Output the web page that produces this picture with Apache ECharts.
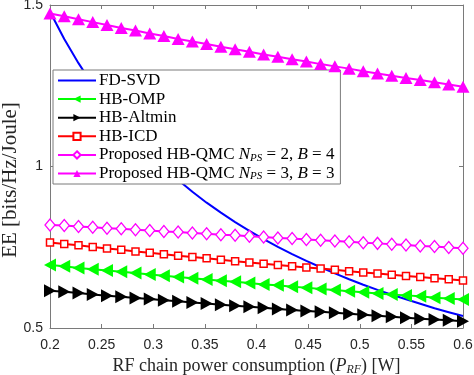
<!DOCTYPE html>
<html>
<head>
<meta charset="utf-8">
<style>
  html, body { margin: 0; padding: 0; background: #fff; }
  #chart { width: 474px; height: 375px; }
</style>
<script src="https://cdn.jsdelivr.net/npm/echarts@6/dist/echarts.min.js"></script>
</head>
<body>
<div id="chart"></div>
<script>
// RF chain power values (W)
const prf = [
  0.2000, 0.2138, 0.2276, 0.2414, 0.2552, 0.2690, 0.2828, 0.2966, 0.3103, 0.3241,
  0.3379, 0.3517, 0.3655, 0.3793, 0.3931, 0.4069, 0.4207, 0.4345, 0.4483, 0.4621,
  0.4759, 0.4897, 0.5034, 0.5172, 0.5310, 0.5448, 0.5586, 0.5724, 0.5862, 0.6000
];

const fdSvd = [
  1.479, 1.395, 1.320, 1.252, 1.191, 1.135, 1.085, 1.039, 0.997, 0.958,
  0.922, 0.888, 0.857, 0.828, 0.801, 0.775, 0.751, 0.729, 0.708, 0.688,
  0.669, 0.651, 0.634, 0.618, 0.603, 0.589, 0.575, 0.561, 0.549, 0.537
];
const hbOmp = [
  0.695, 0.691, 0.686, 0.682, 0.678, 0.674, 0.670, 0.666, 0.662, 0.658,
  0.654, 0.650, 0.646, 0.643, 0.639, 0.635, 0.632, 0.628, 0.625, 0.621,
  0.618, 0.614, 0.611, 0.607, 0.604, 0.601, 0.598, 0.594, 0.591, 0.588
];
const hbAltmin = [
  0.615, 0.612, 0.608, 0.604, 0.600, 0.597, 0.593, 0.590, 0.586, 0.583,
  0.579, 0.576, 0.572, 0.569, 0.566, 0.563, 0.559, 0.556, 0.553, 0.550,
  0.547, 0.544, 0.541, 0.538, 0.535, 0.532, 0.529, 0.526, 0.524, 0.521
];
const hbIcd = [
  0.765, 0.760, 0.756, 0.751, 0.746, 0.742, 0.737, 0.733, 0.728, 0.724,
  0.720, 0.716, 0.711, 0.707, 0.703, 0.699, 0.695, 0.691, 0.687, 0.684,
  0.680, 0.676, 0.672, 0.669, 0.665, 0.661, 0.658, 0.654, 0.651, 0.647
];
const qmc24 = [
  0.819, 0.817, 0.814, 0.812, 0.809, 0.807, 0.804, 0.802, 0.799, 0.797,
  0.794, 0.792, 0.789, 0.787, 0.784, 0.782, 0.779, 0.777, 0.774, 0.772,
  0.769, 0.767, 0.764, 0.762, 0.759, 0.757, 0.754, 0.752, 0.749, 0.747
];
const qmc33 = [
  1.474, 1.465, 1.456, 1.447, 1.438, 1.429, 1.421, 1.412, 1.404, 1.395,
  1.387, 1.379, 1.371, 1.363, 1.355, 1.347, 1.340, 1.332, 1.325, 1.317,
  1.310, 1.303, 1.295, 1.288, 1.281, 1.274, 1.268, 1.261, 1.254, 1.247
];

const xTicks = [0.2, 0.25, 0.3, 0.35, 0.4, 0.45, 0.5, 0.55, 0.6];
const yTicks = [0.5, 1, 1.5];

const names = [
  'FD-SVD',
  'HB-OMP',
  'HB-Altmin',
  'HB-ICD',
  'Proposed HB-QMC NPS=2,B=4',
  'Proposed HB-QMC NPS=3,B=3'
];
const legendRich = {
  'Proposed HB-QMC NPS=2,B=4': 'Proposed HB-QMC {i|N}{sub|PS}{t| = 2, }{i|B}{t| = 4}',
  'Proposed HB-QMC NPS=3,B=3': 'Proposed HB-QMC {i|N}{sub|PS}{t| = 3, }{i|B}{t| = 3}'
};

const serif = '"Liberation Serif", "DejaVu Serif", serif';
const sans = '"Liberation Sans", Arial, sans-serif';
const axisGray = '#7a7a7a';
const tickColor = '#262626';

const triLeft = 'path://M0,5 L10,0 L10,10 Z';
const triRight = 'path://M10,5 L0,0 L0,10 Z';

const pairs = arr => prf.map((x, i) => [x, arr[i]]);

const chart = echarts.init(document.getElementById('chart'), null, { renderer: 'canvas' });

const xAxisBase = {
  type: 'value',
  min: 0.2,
  max: 0.6,
  interval: 0.05,
  axisLine: { show: true, onZero: false, lineStyle: { color: axisGray, width: 1 } },
  axisTick: { show: true, inside: true, length: 4, lineStyle: { color: axisGray } },
  splitLine: { show: false }
};
const yAxisBase = {
  type: 'value',
  min: 0.5,
  max: 1.5,
  interval: 0.5,
  axisLine: { show: true, onZero: false, lineStyle: { color: axisGray, width: 1 } },
  axisTick: { show: true, inside: true, length: 4, lineStyle: { color: axisGray } },
  splitLine: { show: false }
};

chart.setOption({
  animation: false,
  backgroundColor: '#ffffff',
  grid: { left: 50, right: 11, top: 5, bottom: 47, containLabel: false, outerBoundsMode: 'none' },
  // y-axis title (MATLAB places it a bit below the axis centre)
  graphic: [{
    type: 'text',
    x: 10,
    y: 180,
    rotation: Math.PI / 2,
    silent: true,
    style: {
      text: 'EE [bits/Hz/Joule]',
      fontFamily: serif,
      fontSize: 21,
      fill: tickColor,
      align: 'center',
      verticalAlign: 'middle'
    }
  }],
  xAxis: [
    {
      ...xAxisBase,
      position: 'bottom',
      name: 'RF chain power consumption ({i|P}{sub|RF}) [W]',
      nameLocation: 'middle',
      nameGap: 29,
      nameMoveOverlap: false,
      nameTextStyle: {
        fontFamily: serif,
        fontSize: 18,
        color: tickColor,
        rich: {
          i: { fontFamily: serif, fontStyle: 'italic', fontSize: 18, color: tickColor },
          sub: { fontFamily: serif, fontStyle: 'italic', fontSize: 12, color: tickColor, verticalAlign: 'bottom', padding: [7, 0, 0, 0] }
        }
      },
      axisLabel: {
        margin: 10,
        fontFamily: sans,
        fontSize: 14,
        color: tickColor,
        formatter: v => {
          const t = xTicks.find(k => Math.abs(k - v) < 1e-6);
          return t === undefined ? '' : String(t);
        }
      }
    },
    {
      ...xAxisBase,
      position: 'top',
      axisLabel: { show: false }
    }
  ],
  yAxis: [
    {
      ...yAxisBase,
      position: 'left',
      axisLabel: {
        margin: 7,
        fontFamily: sans,
        fontSize: 14,
        color: tickColor,
        hideOverlap: false,
        formatter: v => {
          const t = yTicks.find(k => Math.abs(k - v) < 1e-6);
          return t === undefined ? '' : String(t);
        }
      }
    },
    {
      ...yAxisBase,
      position: 'right',
      axisLabel: { show: false }
    }
  ],
  legend: {
    orient: 'vertical',
    left: 53,
    top: 70,
    padding: [2, 6, 2, 4],
    itemGap: 1.6,
    itemWidth: 38,
    itemHeight: 9,
    backgroundColor: '#ffffff',
    borderColor: axisGray,
    borderWidth: 1,
    borderRadius: 0,
    data: [
      { name: names[0], itemStyle: { opacity: 0 } },
      names[1], names[2], names[3], names[4], names[5]
    ],
    formatter: name => legendRich[name] || name,
    textStyle: {
      fontFamily: serif,
      fontSize: 17,
      lineHeight: 17,
      color: '#000',
      padding: [0, 0, 0, -2],
      rich: {
        i: { fontFamily: serif, fontStyle: 'italic', fontSize: 17, color: '#000' },
        sub: { fontFamily: serif, fontStyle: 'italic', fontSize: 11, color: '#000', verticalAlign: 'bottom', padding: [7, 0, 0, 0] },
        t: { fontFamily: serif, fontSize: 17, color: '#000' }
      }
    }
  },
  series: [
    {
      name: names[0],
      type: 'line',
      data: pairs(fdSvd),
      showSymbol: false,
      symbol: 'none',
      lineStyle: { color: '#0000ff', width: 2 },
      itemStyle: { color: '#0000ff' },
      z: 2
    },
    {
      name: names[1],
      type: 'line',
      data: pairs(hbOmp),
      symbol: triLeft,
      symbolSize: [12, 13],
      lineStyle: { color: '#00ff00', width: 2 },
      itemStyle: { color: '#00ff00' },
      z: 3
    },
    {
      name: names[2],
      type: 'line',
      data: pairs(hbAltmin),
      symbol: triRight,
      symbolSize: [12, 13],
      lineStyle: { color: '#000000', width: 2 },
      itemStyle: { color: '#000000' },
      z: 4
    },
    {
      name: names[3],
      type: 'line',
      data: pairs(hbIcd),
      symbol: 'rect',
      symbolSize: 7,
      lineStyle: { color: '#ff0000', width: 2 },
      itemStyle: { color: '#ffffff', borderColor: '#ff0000', borderWidth: 1.5 },
      z: 5
    },
    {
      name: names[4],
      type: 'line',
      data: pairs(qmc24),
      symbol: 'diamond',
      symbolSize: [10, 12],
      lineStyle: { color: '#ff00ff', width: 2 },
      itemStyle: { color: '#ffffff', borderColor: '#ff00ff', borderWidth: 1.3 },
      z: 6
    },
    {
      name: names[5],
      type: 'line',
      data: pairs(qmc33),
      symbol: 'triangle',
      symbolSize: [13, 12],
      lineStyle: { color: '#ff00ff', width: 2 },
      itemStyle: { color: '#ff00ff' },
      z: 7
    }
  ]
});
</script>
</body>
</html>
